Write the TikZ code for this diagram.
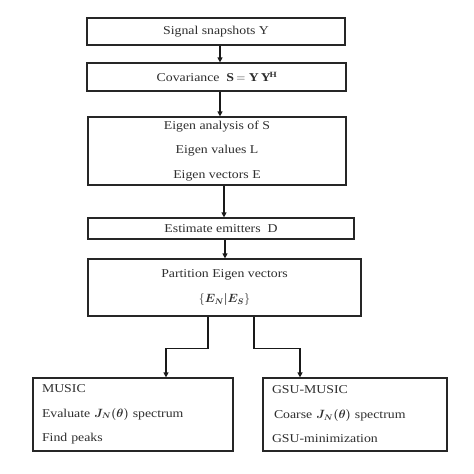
\documentclass[tikz,border=0pt]{standalone}
\usepackage{amsmath,bm}
\usepackage{fontspec}
\setmainfont{Liberation Serif}[FakeStretch=1.15]
\usetikzlibrary{arrows.meta}
\begin{document}
\begin{tikzpicture}[x=1pt,y=-1pt,
  box/.style={draw=black!85,line width=1.2pt,inner sep=0pt,text=black!82,
    font=\fontsize{12}{24.5}\selectfont,align=center},
  lbox/.style={box,align=left,inner xsep=9pt},
  arr/.style={draw=black!90,line width=1.2pt,-{Triangle[length=5pt,width=5pt]}}]
\useasboundingbox (0,0) rectangle (474,474);
\node[box,minimum width=258pt,minimum height=27pt] (b1) at (216,31.5) {Signal snapshots Y};
\node[box,minimum width=259pt,minimum height=28pt] (b2) at (216.5,77) {Covariance\ \ $\mathbf{S}=\mathbf{Y\;Y^{H}}$};
\node[box,minimum width=258pt,minimum height=68pt] (b3) at (217,151) {Eigen analysis of S\\Eigen values L\\Eigen vectors E};
\node[box,minimum width=266pt,minimum height=21pt] (b4) at (221,228.5) {Estimate emitters\ \ D};
\node[box,minimum width=273pt,minimum height=57pt] (b5) at (224.5,287.5) {Partition Eigen vectors\\$\{\bm{E_N|E_S}\}$};
\node[lbox,text width=182pt,minimum height=73pt] (b6) at (133,414.5) {MUSIC\\Evaluate $\bm{J_N(\theta)}$ spectrum\\Find peaks};
\node[lbox,text width=166pt,minimum height=73pt] (b7) at (355,414.5) {GSU-MUSIC\\\hspace{2pt}Coarse $\bm{J_N(\theta)}$ spectrum\\GSU-minimization};
\draw[arr] ([xshift=4pt]b1.south) -- ([xshift=3.5pt]b2.north);
\draw[arr] ([xshift=3.5pt]b2.south) -- ([xshift=3pt]b3.north);
\draw[arr] ([xshift=7pt]b3.south) -- ([xshift=3pt]b4.north);
\draw[arr] ([xshift=4pt]b4.south) -- ([xshift=0.5pt]b5.north);
\draw[arr] ([xshift=-16.5pt]b5.south) -- ++(0,32) -| ([xshift=33pt]b6.north);
\draw[arr] ([xshift=29.5pt]b5.south) -- ++(0,32) -| ([xshift=-55pt]b7.north);
\end{tikzpicture}
\end{document}
